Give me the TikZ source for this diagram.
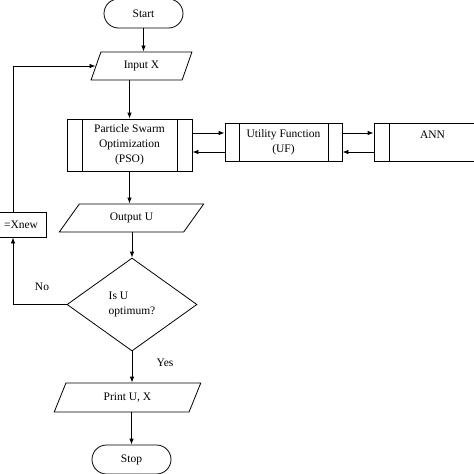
\documentclass[tikz,border=0pt]{standalone}
\usepackage{fontspec}
\setmainfont{Liberation Serif}
\usetikzlibrary{arrows.meta, positioning, shapes.geometric, shapes.misc, calc}

\tikzset{
  base/.style={draw=black, line width=0.8pt, align=center, inner sep=0pt,
    font=\fontsize{11.5}{15}\selectfont},
  term/.style={base, rounded rectangle, minimum width=79pt, minimum height=29pt},
  iobox/.style={base, trapezium, trapezium stretches=true, minimum height=28pt},
  procbox/.style={base, rectangle, path picture={
    \draw[line width=0.8pt]
      ([xshift=#1]path picture bounding box.north west) -- ([xshift=#1]path picture bounding box.south west)
      ([xshift=-#1]path picture bounding box.north east) -- ([xshift=-#1]path picture bounding box.south east);}},
  procbox/.default=15pt,
  decbox/.style={base, diamond, align=left, minimum width=130pt, minimum height=93pt},
  plainbox/.style={base, rectangle},
  arr/.style={line width=0.8pt, -{Latex[length=6pt,width=4.5pt]}},
  lbl/.style={font=\fontsize{11.5}{15}\selectfont},
}

\begin{document}
\begin{tikzpicture}[x=1pt, y=-1pt]
  \useasboundingbox (0,0) rectangle (474,474);

  % Main column
  \node[term] (start) at (143.5,13.5) {Start};
  \node[iobox, minimum width=101pt, trapezium left angle=66.8, trapezium right angle=113.2]
       (in) at (141.5,66) {Input X};
  \node[procbox, minimum width=125pt, minimum height=52pt]
       (pso) at (129.5,145) {Particle Swarm\\Optimization\\(PSO)};
  \node[iobox, minimum width=145pt, trapezium left angle=50.6, trapezium right angle=129.4]
       (out) at (131.5,218) {Output U};
  \node[decbox] (dec) at (132,304.5) {Is U\\optimum?};
  \node[iobox, minimum width=147pt, minimum height=29pt, trapezium left angle=64.2, trapezium right angle=115.8]
       (prt) at (127.5,397.5) {Print U, X};
  \node[term] (stop) at (131.5,459.5) {Stop};

  % Side blocks
  \node[procbox=14pt, minimum width=117pt, minimum height=38pt]
       (uf) at (283.5,142) {Utility Function\\(UF)};
  \node[procbox, minimum width=117pt, minimum height=38pt]
       (ann) at (432.5,142) {ANN\\\mbox{}};

  % Update box (loop), runs off the left edge
  \node[plainbox, minimum width=66pt, minimum height=25pt, text width=50pt, align=right]
       (upd) at (13,224.5) {=Xnew};

  % Labels
  \node[lbl] (no) at (42,287) {No};
  \node[lbl] (yes) at (165,363) {Yes};

  % Connectors
  \draw[arr] (start.south) -- (start.south |- in.north);
  \draw[arr] (pso.north |- in.south) -- (pso.north);
  \draw[arr] (pso.east |- 0,133) -- (uf.west |- 0,133);
  \draw[arr] (uf.west |- 0,152) -- (pso.east |- 0,152);
  \draw[arr] (uf.east |- 0,133) -- (ann.west |- 0,133);
  \draw[arr] (ann.west |- 0,152) -- (uf.east |- 0,152);
  \draw[arr] (pso.south) -- (pso.south |- out.north);
  \draw[arr] (dec.north |- out.south) -- (dec.north);
  \draw[arr] (dec.south) -- (dec.south |- prt.north);
  \draw[arr] (stop.north |- prt.south) -- (stop.north);
  \draw[arr] (dec.west) -| (upd.south);
  \draw[arr] (upd.north) |- (in.west);
\end{tikzpicture}
\end{document}
